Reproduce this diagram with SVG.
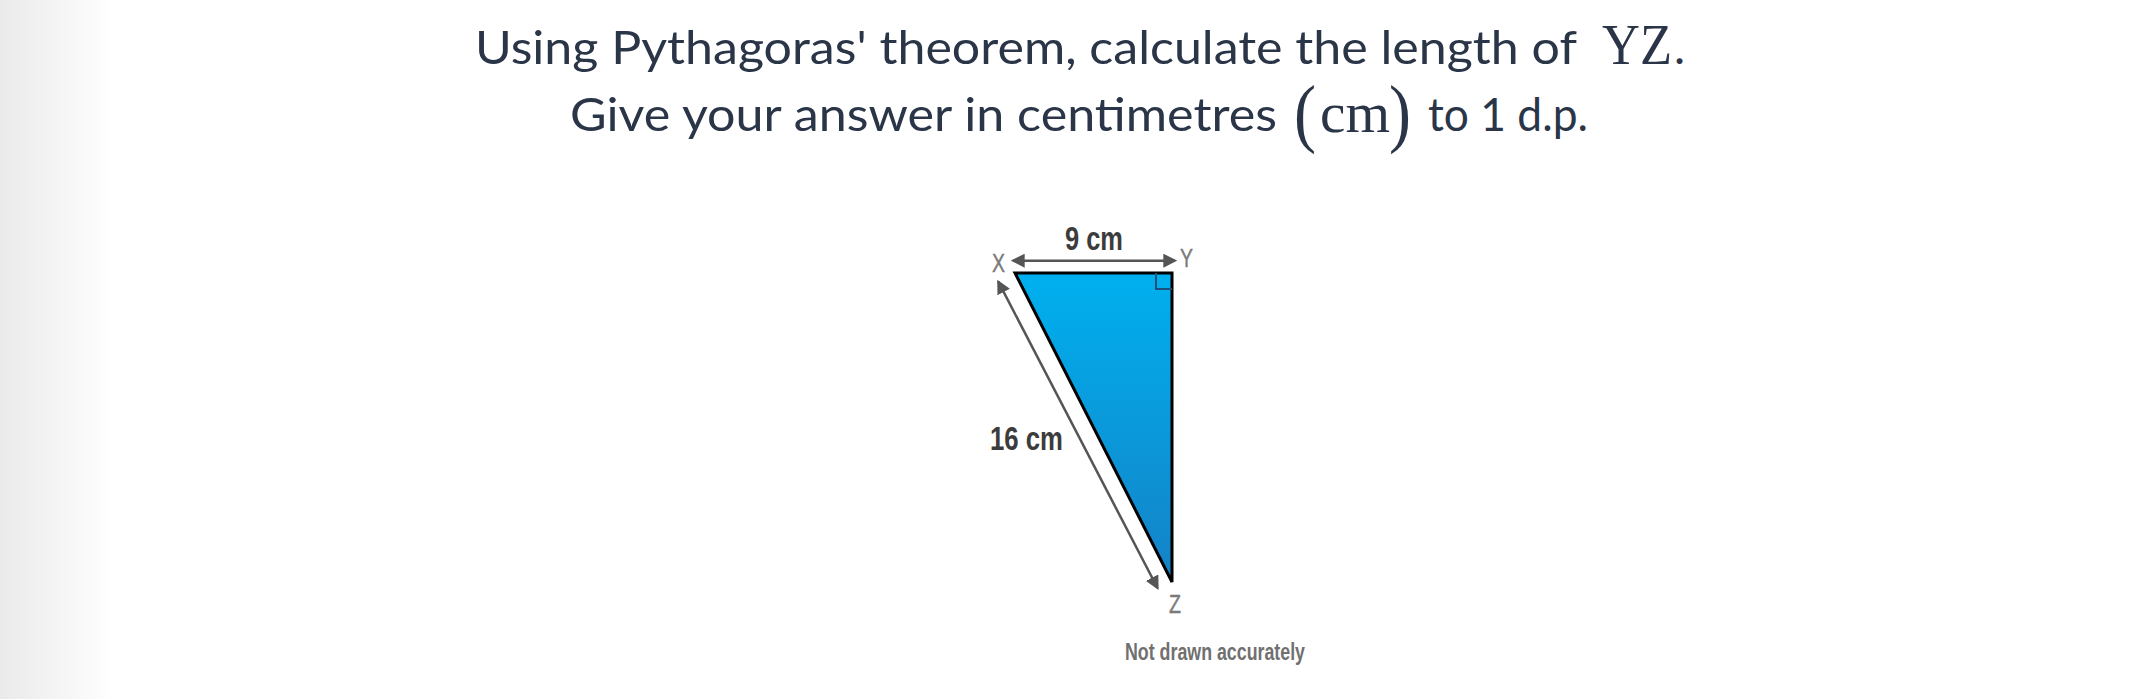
<svg xmlns="http://www.w3.org/2000/svg" width="2137" height="699" viewBox="0 0 2137 699">
  <defs>
    <linearGradient id="bg" x1="0" y1="0" x2="1" y2="0">
      <stop offset="0" stop-color="#eaeaea"/>
      <stop offset="1" stop-color="#ffffff"/>
    </linearGradient>
    <linearGradient id="tri" x1="0" y1="0" x2="0" y2="1">
      <stop offset="0" stop-color="#00b0ef"/>
      <stop offset="1" stop-color="#1482c6"/>
    </linearGradient>
    <marker id="ah" viewBox="0 0 12 12" refX="10" refY="6" markerWidth="14" markerHeight="14" markerUnits="userSpaceOnUse" orient="auto-start-reverse">
      <path d="M0,0 L12,6 L0,12 Z" fill="#555555"/>
    </marker>
    <style>
      .q { font-family: Lato, "Noto Sans", "Liberation Sans", sans-serif; font-size: 47px; fill: #2a3548; }
      .m { font-family: "Liberation Serif", "DejaVu Serif", serif; fill: #2a3548; }
      .dim { font-family: "Liberation Sans", Arial, sans-serif; font-weight: bold; font-size: 34px; fill: #3c3c3c; }
      .vtx { font-family: "Liberation Sans", Arial, sans-serif; font-size: 26px; fill: #7a7a7a; stroke: #7a7a7a; stroke-width: 0.4; }
      .note { font-family: "Liberation Sans", Arial, sans-serif; font-weight: bold; font-size: 24px; fill: #707070; }
      .arrow { stroke: #555555; stroke-width: 2.5; fill: none; }
    </style>
  </defs>
  <rect x="0" y="0" width="2137" height="699" fill="#ffffff"/>
  <rect x="0" y="0" width="115" height="699" fill="url(#bg)"/>

  <g id="question">
    <text class="q" x="475" y="64" textLength="1102" lengthAdjust="spacingAndGlyphs">Using Pythagoras' theorem, calculate the length of</text>
    <text class="m" x="1602" y="64" font-size="56" textLength="70" lengthAdjust="spacingAndGlyphs">YZ</text>
    <text class="q" x="1674" y="64">.</text>
    <text class="q" x="570" y="131" textLength="707" lengthAdjust="spacingAndGlyphs">Give your answer in centimetres</text>
    <text class="m" x="1294" y="138" font-size="76" textLength="22" lengthAdjust="spacingAndGlyphs">(</text>
    <text class="m" x="1320" y="131.5" font-size="57" textLength="70" lengthAdjust="spacingAndGlyphs">cm</text>
    <text class="m" x="1389" y="138" font-size="76" textLength="22" lengthAdjust="spacingAndGlyphs">)</text>
    <text class="q" x="1428" y="131" textLength="160" lengthAdjust="spacingAndGlyphs">to 1 d.p.</text>
  </g>

  <g id="triangle">
    <polygon points="1015,273 1172,273 1172,582" fill="url(#tri)" stroke="#000000" stroke-width="3" stroke-linejoin="miter"/>
    <polyline points="1156,273 1156,289 1172,289" fill="none" stroke="#1d4f78" stroke-width="2"/>
  </g>

  <g id="connectors">
    <line class="arrow" x1="1013" y1="260.7" x2="1175" y2="260.7" marker-start="url(#ah)" marker-end="url(#ah)"/>
    <line class="arrow" x1="998.3" y1="281.7" x2="1157.5" y2="588" marker-start="url(#ah)" marker-end="url(#ah)"/>
  </g>

  <g id="labels">
    <text class="dim" x="1065" y="249.5" textLength="58" lengthAdjust="spacingAndGlyphs">9 cm</text>
    <text class="dim" x="990" y="449.5" textLength="73" lengthAdjust="spacingAndGlyphs">16 cm</text>
    <text class="vtx" x="992" y="272" textLength="13" lengthAdjust="spacingAndGlyphs">X</text>
    <text class="vtx" x="1180" y="267" textLength="13" lengthAdjust="spacingAndGlyphs">Y</text>
    <text class="vtx" x="1169" y="613" textLength="12" lengthAdjust="spacingAndGlyphs">Z</text>
    <text class="note" x="1125" y="660" textLength="180" lengthAdjust="spacingAndGlyphs">Not drawn accurately</text>
  </g>
</svg>
